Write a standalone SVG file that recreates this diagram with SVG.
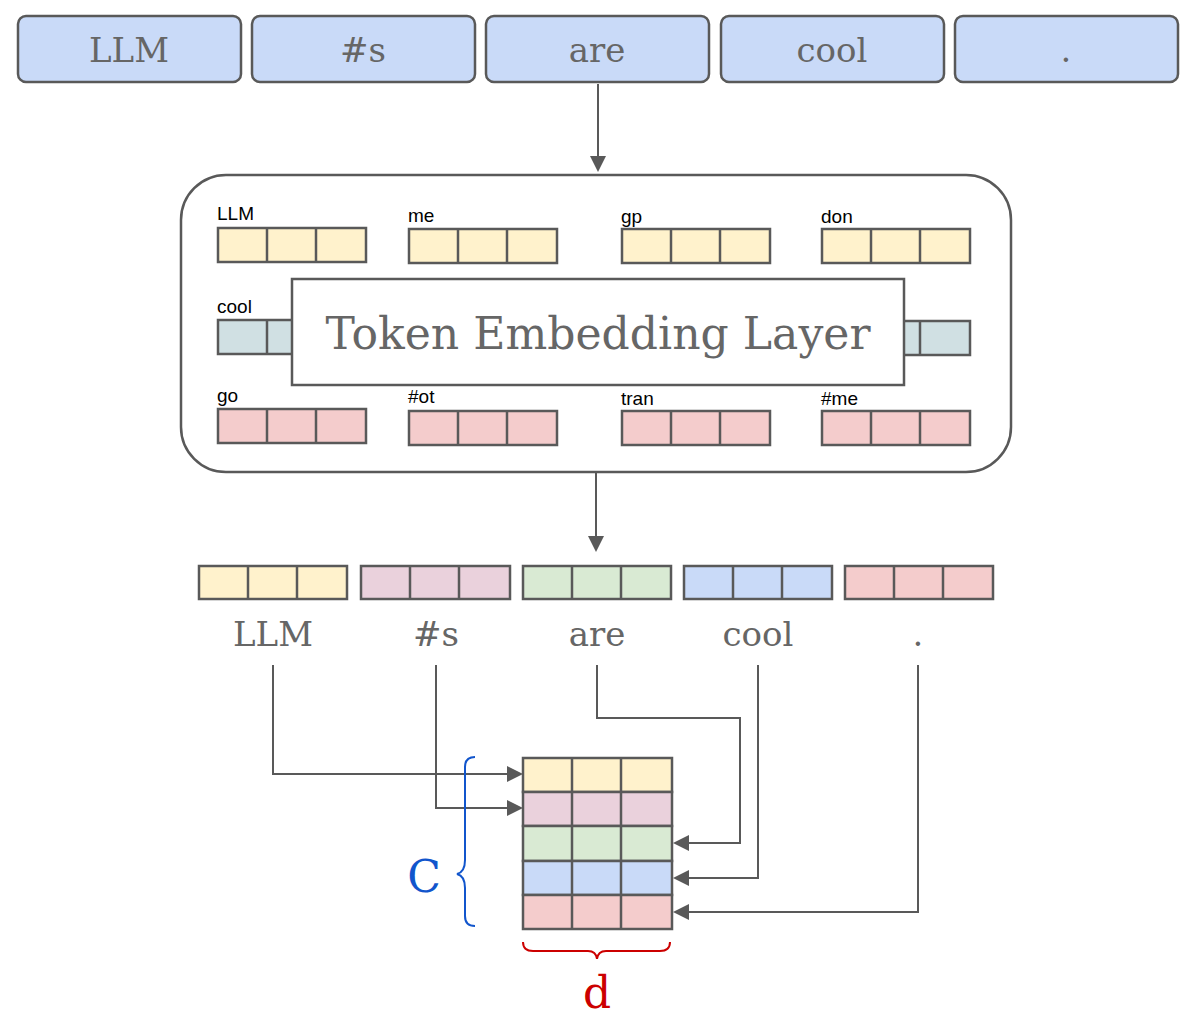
<svg xmlns="http://www.w3.org/2000/svg" width="1194" height="1026" viewBox="0 0 1194 1026">
<defs>
<marker id="ah" markerWidth="8" markerHeight="8" refX="7" refY="4" orient="auto" markerUnits="strokeWidth"><path d="M0,0 L8,4 L0,8 z" fill="#595959"/></marker>
<style>
.tok{fill:#c9daf8;stroke:#595959;stroke-width:2.5}
.c{stroke:#595959;stroke-width:2.5}
.big{font-family:"DejaVu Serif","Liberation Serif",serif;font-size:34px;fill:#666;text-anchor:middle}
.sm{font-family:"Liberation Sans",Arial,sans-serif;font-size:19px;fill:#000}
.y{fill:#fff2cc}.p{fill:#ead1dc}.g{fill:#d9ead3}.b{fill:#c9daf8}.r{fill:#f4cccc}.t{fill:#d0e0e3}
.conn{fill:none;stroke:#595959;stroke-width:2}
</style>
</defs>
<rect width="1194" height="1026" fill="#fff"/>
<g id="tokens">
<g id="t1"><rect class="tok" x="18" y="16" width="223" height="66" rx="8"/><text class="big" x="129" y="62">LLM</text></g>
<g id="t2"><rect class="tok" x="252" y="16" width="223" height="66" rx="8"/><text class="big" x="363" y="62">#s</text></g>
<g id="t3"><rect class="tok" x="486" y="16" width="223" height="66" rx="8"/><text class="big" x="597" y="62">are</text></g>
<g id="t4"><rect class="tok" x="721" y="16" width="223" height="66" rx="8"/><text class="big" x="832" y="62">cool</text></g>
<g id="t5"><rect class="tok" x="955" y="16" width="223" height="66" rx="8"/><text class="big" x="1066" y="62">.</text></g>
</g>
<g id="layer">
<rect x="181" y="175" width="830" height="297" rx="45" fill="#fff" stroke="#595959" stroke-width="2.5"/>
<g class="c">
<rect class="y" x="218" y="228" width="148" height="34"/><line x1="267" y1="228" x2="267" y2="262"/><line x1="316" y1="228" x2="316" y2="262"/>
<rect class="y" x="409" y="229" width="148" height="34"/><line x1="458" y1="229" x2="458" y2="263"/><line x1="507" y1="229" x2="507" y2="263"/>
<rect class="y" x="622" y="229" width="148" height="34"/><line x1="671" y1="229" x2="671" y2="263"/><line x1="720" y1="229" x2="720" y2="263"/>
<rect class="y" x="822" y="229" width="148" height="34"/><line x1="871" y1="229" x2="871" y2="263"/><line x1="920" y1="229" x2="920" y2="263"/>
<rect class="t" x="218" y="320" width="148" height="34"/><line x1="267" y1="320" x2="267" y2="354"/><line x1="316" y1="320" x2="316" y2="354"/>
<rect class="t" x="822" y="321" width="148" height="34"/><line x1="871" y1="321" x2="871" y2="355"/><line x1="920" y1="321" x2="920" y2="355"/>
<rect class="r" x="218" y="409" width="148" height="34"/><line x1="267" y1="409" x2="267" y2="443"/><line x1="316" y1="409" x2="316" y2="443"/>
<rect class="r" x="409" y="411" width="148" height="34"/><line x1="458" y1="411" x2="458" y2="445"/><line x1="507" y1="411" x2="507" y2="445"/>
<rect class="r" x="622" y="411" width="148" height="34"/><line x1="671" y1="411" x2="671" y2="445"/><line x1="720" y1="411" x2="720" y2="445"/>
<rect class="r" x="822" y="411" width="148" height="34"/><line x1="871" y1="411" x2="871" y2="445"/><line x1="920" y1="411" x2="920" y2="445"/>
</g>
<text class="sm" x="217" y="220">LLM</text><text class="sm" x="408" y="222">me</text><text class="sm" x="621" y="223">gp</text><text class="sm" x="821" y="223">don</text>
<text class="sm" x="217" y="313">cool</text>
<text class="sm" x="217" y="402">go</text><text class="sm" x="408" y="403">#ot</text><text class="sm" x="621" y="405">tran</text><text class="sm" x="821" y="405">#me</text>
<rect x="292" y="279" width="612" height="106" fill="#fff" stroke="#595959" stroke-width="2.5"/>
<text x="598" y="349" font-family="DejaVu Serif, Liberation Serif, serif" font-size="44" fill="#666" text-anchor="middle" textLength="545" lengthAdjust="spacingAndGlyphs">Token Embedding Layer</text>
</g>
<g id="embeddings" class="c">
<rect class="y" x="199" y="566" width="148" height="33"/><line x1="248" y1="566" x2="248" y2="599"/><line x1="297" y1="566" x2="297" y2="599"/>
<rect class="p" x="361" y="566" width="149" height="33"/><line x1="410" y1="566" x2="410" y2="599"/><line x1="459" y1="566" x2="459" y2="599"/>
<rect class="g" x="523" y="566" width="148" height="33"/><line x1="572" y1="566" x2="572" y2="599"/><line x1="621" y1="566" x2="621" y2="599"/>
<rect class="b" x="684" y="566" width="148" height="33"/><line x1="733" y1="566" x2="733" y2="599"/><line x1="782" y1="566" x2="782" y2="599"/>
<rect class="r" x="845" y="566" width="148" height="33"/><line x1="894" y1="566" x2="894" y2="599"/><line x1="943" y1="566" x2="943" y2="599"/>
</g>
<g id="labels">
<text class="big" x="273" y="646">LLM</text><text class="big" x="436" y="646">#s</text><text class="big" x="597" y="646">are</text><text class="big" x="758" y="646">cool</text><text class="big" x="918" y="646">.</text>
</g>
<g id="matrix" class="c">
<rect class="y" x="523" y="758" width="149" height="34"/>
<rect class="p" x="523" y="792" width="149" height="34"/>
<rect class="g" x="523" y="826" width="149" height="35"/>
<rect class="b" x="523" y="861" width="149" height="34"/>
<rect class="r" x="523" y="895" width="149" height="34"/>
<line x1="572" y1="758" x2="572" y2="929"/><line x1="621" y1="758" x2="621" y2="929"/>
</g>
<g id="connectors">
<line class="conn" x1="598" y1="84" x2="598" y2="170" marker-end="url(#ah)"/>
<line class="conn" x1="596" y1="473" x2="596" y2="550" marker-end="url(#ah)"/>
<path class="conn" d="M273,665 V774 H521" marker-end="url(#ah)"/>
<path class="conn" d="M436,665 V808 H521" marker-end="url(#ah)"/>
<path class="conn" d="M597,665 V718 H740 V843 H675" marker-end="url(#ah)"/>
<path class="conn" d="M758,665 V878 H675" marker-end="url(#ah)"/>
<path class="conn" d="M918,665 V912 H675" marker-end="url(#ah)"/>
</g>
<g id="braceC">
<path d="M475,757 Q465,757 465,767 V860 Q465,872 457,874 Q465,876 465,888 V916 Q465,926 475,926" fill="none" stroke="#1155cc" stroke-width="2"/>
<text x="424" y="892" font-family="DejaVu Serif, Liberation Serif, serif" font-size="44" fill="#1155cc" text-anchor="middle">C</text>
</g>
<g id="braced">
<path d="M523,942 Q523,951 533,951 H588 Q596,951 597,959 Q598,951 606,951 H660 Q670,951 670,942" fill="none" stroke="#cc0000" stroke-width="2"/>
<text x="597" y="1008" font-family="DejaVu Serif, Liberation Serif, serif" font-size="44" fill="#cc0000" text-anchor="middle">d</text>
</g>
</svg>
